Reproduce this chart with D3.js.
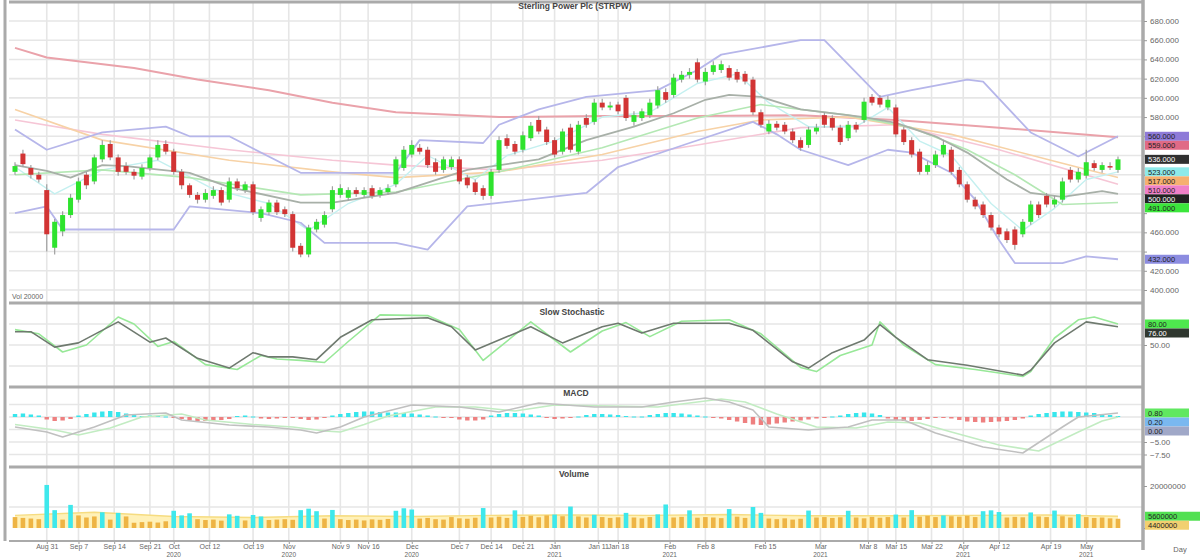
<!DOCTYPE html>
<html>
<head>
<meta charset="utf-8">
<script src="https://cdn.jsdelivr.net/npm/d3@7"></script>
<style>
body{margin:0;background:#fff}
text{font-family:"Liberation Sans",Arial,sans-serif}
</style>
</head>
<body>
<script>
const W=1200
const H=558

// ---- price data (one candle per index) ----
const opens=[523,542,527,520,504,444,461,478,494,520, 513,536,552,538,529,523,518,527,538,552,
 544,523,509,499,494,498,504,494,513,504, 510,475,481,491,484,479,446,437,463,468,
 484,499,496,504,499,506,499,502,510,527, 541,548,546,533,525,528,536,517,512,506,
 498,525,558,552,546,558,577,567,556,544, 569,544,579,575,595,590,593,600,575,579,
 582,592,606,603,619,624,637,617,627,629, 631,627,625,619,585,565,573,572,565,556,
 551,565,582,579,569,558,572,577,601,600, 590,590,567,556,544,523,530,541,546,525,
 510,494,489,478,465,461,463,458,471,489, 498,489,494,525,515,519,532,525,529,525]
const highs=[533,546,530,523,510,474,482,500,517,523, 541,556,556,541,533,526,531,541,556,556,
 547,526,511,502,505,508,507,517,516,513, 513,487,494,494,487,482,449,468,474,482,
 508,510,507,507,507,509,507,510,539,550, 556,552,549,537,539,539,539,520,515,509,
 526,560,562,555,565,575,581,570,559,568, 573,576,583,599,599,596,596,603,586,589,
 599,612,610,625,628,631,641,631,638,639, 634,630,628,622,588,577,576,575,568,559,
 570,573,585,582,572,576,575,600,604,603, 602,593,570,559,547,534,545,556,549,528,
 513,497,492,481,468,464,466,474,493,492, 501,498,517,528,527,546,535,533,533,539]
const lows=[520,528,516,512,440,437,456,475,491,505, 510,533,535,519,520,515,515,524,535,541,
 520,505,496,490,491,495,488,491,503,501, 478,471,478,478,476,440,434,434,460,465,
 481,496,493,497,496,495,496,499,507,524, 538,541,527,520,522,525,510,506,499,494,
 495,522,547,541,543,555,562,551,538,541, 543,541,569,572,587,587,583,576,571,576,
 579,589,595,600,616,620,616,613,624,626, 618,616,614,582,569,562,566,562,553,545,
 548,562,569,566,551,555,564,574,592,590, 587,559,551,538,520,520,527,538,520,507,
 491,484,475,462,455,449,442,455,468,475, 486,486,491,512,512,516,524,522,525,522]
const closes=[529,531,520,515,458,471,478,496,513,509, 538,551,538,523,523,519,527,538,551,544,
 523,509,499,494,501,504,491,513,506,510, 481,484,491,481,479,444,437,465,471,478,
 504,506,504,500,504,498,504,506,536,546, 551,544,530,523,536,536,513,509,502,498,
 523,556,550,544,561,571,565,554,541,565, 546,572,572,595,590,592,586,579,582,586,
 595,608,598,621,624,627,619,627,634,635, 621,619,617,585,572,573,569,565,556,548,
 567,569,572,569,554,572,567,596,595,593, 598,562,554,541,523,530,541,551,523,510,
 494,487,478,465,458,452,447,471,489,478, 489,494,513,515,523,533,527,530,528,536]

// volume in millions
const volumes=[5.2,4.8,4.5,4.2,20.5,8.5,4.0,11.0,6.0,5.0, 5.5,7.5,4.0,7.2,5.5,2.5,2.8,3.0,2.6,3.2,
 8.2,6.0,7.0,4.2,3.8,4.0,3.5,6.5,5.8,3.6, 6.2,5.5,3.8,4.0,4.2,3.9,8.5,9.2,8.0,4.5,
 8.6,4.2,3.8,4.0,3.6,4.1,3.9,4.3,8.2,9.4, 8.8,4.5,4.8,4.2,4.0,5.2,4.6,4.4,4.9,9.5,
 5.0,5.4,4.8,8.4,5.3,5.8,5.1,6.0,6.4,5.6, 10.2,5.5,5.0,6.3,5.2,4.8,5.1,7.2,5.0,4.6,
 5.2,6.5,11.2,5.0,5.3,8.4,4.9,5.2,5.0,4.7, 9.0,5.4,4.8,10.0,7.2,4.5,4.2,4.6,4.0,4.4,
 8.3,5.0,5.2,4.8,5.1,8.2,5.0,4.6,5.3,4.9, 5.2,6.4,5.0,8.5,5.4,5.8,5.2,6.0,5.6,5.4,
 5.8,5.2,8.0,8.4,7.6,5.0,5.3,5.1,7.4,5.5, 5.2,8.3,5.6,5.0,6.6,5.2,4.8,5.0,4.6,4.4]
const volMaIdx=[0,10,20,30,40,50,60,70,80,90,100,110,120,130,139]
const volMa=[6.0,7.5,5.5,5.0,5.8,5.5,6.0,6.2,6.0,6.4,5.8,5.8,6.0,6.2,5.6]

// ---- overlays (read at key candles) ----
const ma200Idx=[0,4,15,23,32,40,48,61,74,86,99,111,124,139]
const ma200=[652,642,631,619,608,595,585,580,581,581,582,577,569,559]
const bbUpIdx=[0,4,11,19,22,27,36,48,51,59,61,66,72,81,86,89,99,102,109,113,120,122,128,134,139]
const bbUpper=[567,546,564,570,560,560,522,522,556,553,572,588,601,608,629,645,660,660,601,608,619,617,564,539,560]
const bbLowIdx=[0,4,6,20,22,31,36,39,48,52,57,72,76,85,93,96,99,105,110,113,118,121,124,126,132,135,139]
const bbLower=[480,487,463,463,487,480,470,449,449,442,487,501,528,553,575,562,546,530,546,543,522,494,452,428,428,435,432]
const bbMidIdx=[0,4,7,11,14,22,27,36,40,48,57,66,72,78,83,87,90,94,99,107,111,116,120,125,128,132,137,139]
const bbMid=[530,524,517,530,529,522,507,491,491,501,525,536,556,570,584,598,603,601,588,580,574,560,543,515,501,497,503,500]
const ma50Idx=[0,11,22,36,48,61,74,86,94,105,113,120,126,132,139]
const ma50=[520,525,517,499,502,523,548,579,593,582,569,546,520,489,491]
const ma100Idx=[0,11,27,40,48,61,74,86,94,105,118,131,139]
const ma100=[588,556,535,523,517,523,541,565,577,580,562,534,517]
const ma150Idx=[0,11,27,40,48,61,74,86,99,111,124,139]
const ma150=[577,562,546,535,530,525,535,551,569,572,546,510]
const emaIdx=[0,5,11,18,25,32,37,42,48,52,58,62,68,74,80,86,91,95,100,106,110,114,118,123,127,131,135,139]
const ema=[528,500,525,535,505,490,462,490,510,540,515,540,555,580,585,615,625,595,570,570,590,555,540,490,462,485,515,523]
const priceTicks=[400,420,440,460,480,500,520,540,560,580,600,620,640,660,680]

// ---- slow stochastic ----
const stochKIdx=[0,2,5,8,13,17,19,23,27,30,32,35,38,41,45,52,55,58,65,69,74,76,79,83,90,93,98,100,103,107,109,111,115,120,127,128,131,135,139]
const stochK=[69,69,47,53,83,54,60,31,17,39,33,33,29,61,86,89,76,43,76,53,76,81,67,81,81,71,26,17,39,57,79,61,29,21,7,14,53,83,76]
const stochDIdx=[0,3,6,9,13,15,18,20,24,28,31,33,36,39,42,46,52,56,59,65,70,74,77,80,84,90,94,99,101,104,108,109,112,116,121,127,128,131,134,136,139]
const stochD=[72,66,40,50,90,80,48,55,22,15,35,30,28,25,55,93,92,72,28,83,40,70,82,62,84,86,66,18,12,35,50,83,50,22,15,5,12,60,86,90,80]

// ---- MACD ----
const macdIdx=[0,4,6,10,14,19,21,27,32,36,38,41,44,50,56,61,66,73,79,83,87,90,93,95,100,105,108,112,116,122,127,132,134,139]
const macdLine=[-2.0,-3.0,-4.0,-2.0,0.4,0.8,-0.6,-1.6,-2.0,-2.6,-3.2,-2.0,0,2.4,2.0,1.0,2.8,2.0,2.0,3.0,3.8,3.0,1.4,-2.0,-2.6,-2.0,-0.6,-0.6,-3.2,-6.0,-7.2,-2.0,0,0.8]
const signalIdx=[0,5,8,12,16,21,24,30,35,39,41,44,47,53,58,63,68,75,81,85,89,92,96,101,106,110,114,118,124,129,134,137,139]
const signalLine=[-1.5,-2.6,-3.6,-2.2,0,0.6,-0.6,-1.5,-2.0,-2.8,-3.0,-1.5,0.2,2.0,2.0,1.2,2.4,2.2,2.0,2.8,3.6,3.0,0.6,-2.0,-2.2,-1.0,-1.2,-3.0,-5.6,-6.8,-3.0,-0.8,0.0]
const macdHist=[0.6,0.7,0.5,0.3, -0.5,-0.8,-0.7,-0.4, 0.3,0.6,0.9,1.1,1.2,1.0,0.7,0.4,
 0.2,0.3,0.2,0.1, -0.1, -0.4,-0.7,-0.8,-0.8,-0.7,-0.6,-0.4, 0.2,0.3,0.1, -0.3,-0.4,-0.3,
 -0.1,-0.2, -0.4,-0.6,-0.5, -0.2, 0.3,0.6,0.8,1.0,1.1,1.1,1.0,0.9,0.9,0.8,0.7,0.5,0.3,
 0.1,-0.1,-0.2, -0.5,-0.7,-0.7,-0.5, 0.3,0.6,0.8,0.8,0.7,0.5,0.3, -0.2,-0.4,-0.3, -0.1,0.1,
 0.4,0.6,0.6,0.5,0.4,0.2, 0.1,0.1, 0.4,0.6,0.8,0.8,0.7,0.5,0.3, 0.1,-0.1,-0.3,
 -0.6,-0.9,-1.2,-1.5,-1.6,-1.5,-1.3,-1.1,-0.9,-0.7,-0.5,-0.3, -0.1,0.1,0.3,
 0.6,0.8,0.9,0.7,0.4, -0.3,-0.6,-0.8,-0.8,-0.6,-0.4, -0.2,-0.1,-0.3,
 -0.6,-0.9,-1.0,-1.1,-1.0,-0.9,-0.8,-0.6,-0.3, 0.3,0.6,0.8,1.0,1.1,1.1,1.0,0.9,0.8,0.6,0.4,0.2]

// ---- time axis ----
const xTickIdx=[4,8,12.5,17,20,24.5,30,34.5,41,44.5,50,56,60,64,68,73.5,76,82.5,87,94.5,101.5,107.5,111,115.5,119.5,124,130.5,135]
const xTickLabels=["Aug 31","Sep 7","Sep 14","Sep 21","Oct","Oct 12","Oct 19","Nov","Nov 9","Nov 16","Dec","Dec 7","Dec 14","Dec 21","Jan","Jan 11","Jan 18","Feb","Feb 8","Feb 15","Mar","Mar 8","Mar 15","Mar 22","Apr","Apr 12","Apr 19","May"]
const xSubIdx=[20,34.5,50,68,82.5,101.5,119.5,135]
const xSubLabels=["2020","2020","2020","2021","2021","2021","2021","2021"]

const title="Sterling Power Plc (STRPW)"

// ---- layout ----
const left=9, right=1142
const pMain={top:3,bottom:302}
const pStoch={top:304,bottom:386}
const pMacd={top:388,bottom:466}
const pVol={top:468,bottom:541}

const x=d3.scaleLinear().domain([0,closes.length-1]).range([15,1118])
const y=d3.scaleLinear().domain([400,680]).range([290,21])
const yS=d3.scaleLinear().domain([0,100]).range([380,310])
const yM=d3.scaleLinear().domain([-9,5]).range([462,392])
const yV=d3.scaleLinear().domain([0,20]).range([528,486])

const svg=d3.create("svg")
    .attr("width",W)
    .attr("height",H)
    .style("display","block")
d3.select("body").append(()=>svg.node())

svg.append("rect").attr("width",W).attr("height",H).attr("fill","#fff")

//vertical grid in every panel
;[pMain,pStoch,pMacd,pVol].forEach(p=>{
  svg.append("g").selectAll("line").data(xTickIdx).enter().append("line")
    .attr("x1",d=>x(d)).attr("x2",d=>x(d))
    .attr("y1",p.top).attr("y2",p.bottom)
    .attr("stroke","#e6e6e6").attr("stroke-width",1.6)
})

//horizontal grids
function hGrid(vals,scale){
  svg.append("g").selectAll("line").data(vals).enter().append("line")
    .attr("x1",left).attr("x2",right)
    .attr("y1",d=>scale(d)).attr("y2",d=>scale(d))
    .attr("stroke","#e6e6e6").attr("stroke-width",1.6)
}
hGrid(priceTicks,y)
hGrid([20,50,80],yS)
hGrid([-7.5,-5,-2.5,0,2.5],yM)
hGrid([10],yV)

const pts=(idx,vals)=>d3.zip(idx,vals)
function drawLine(data,scale,color,width){
  svg.append("path")
    .attr("d",d3.line().x(d=>x(d[0])).y(d=>scale(d[1]))(data))
    .attr("fill","none").attr("stroke",color).attr("stroke-width",width||1.6)
    .attr("stroke-linejoin","round")
}

// main overlays
drawLine(pts(ma200Idx,ma200),y,"#eaa2aa",2)
drawLine(pts(ma150Idx,ma150),y,"#f6c6d6",1.6)
drawLine(pts(ma100Idx,ma100),y,"#f7d2a6",1.6)
drawLine(pts(emaIdx,ema),y,"#c4f0f0",1.4)
drawLine(pts(ma50Idx,ma50),y,"#b4e8b4",1.6)
drawLine(pts(bbUpIdx,bbUpper),y,"#b6b6ea",1.8)
drawLine(pts(bbLowIdx,bbLower),y,"#b6b6ea",1.8)
drawLine(pts(bbMidIdx,bbMid),y,"#a8b0a8",1.8)

// candles
const candles=d3.range(closes.length).map(i=>({i,o:opens[i],h:highs[i],l:lows[i],c:closes[i]}))
const cg=svg.append("g")
cg.selectAll("line").data(candles).enter().append("line")
  .attr("x1",d=>x(d.i)).attr("x2",d=>x(d.i))
  .attr("y1",d=>y(d.h)).attr("y2",d=>y(d.l))
  .attr("stroke","#a0a0a0").attr("stroke-width",1.2)
cg.selectAll("rect").data(candles).enter().append("rect")
  .attr("x",d=>x(d.i)-2.5).attr("width",5)
  .attr("y",d=>y(Math.max(d.o,d.c)))
  .attr("height",d=>Math.max(1.5,Math.abs(y(d.o)-y(d.c))))
  .attr("fill",d=>d.c>=d.o?"#2ee32e":"#d23434")

// stochastic
drawLine(pts(stochDIdx,stochD),yS,"#98e898",1.6)
drawLine(pts(stochKIdx,stochK),yS,"#6f7a6f",1.6)

// MACD
const yz=yM(0)
svg.append("g").selectAll("rect").data(macdHist).enter().append("rect")
  .attr("x",(d,i)=>x(i)-2.2).attr("width",4.4)
  .attr("y",d=>d>=0?yM(d):yz)
  .attr("height",d=>Math.max(1,Math.abs(yM(d)-yz)))
  .attr("fill",d=>d>=0?"#38e6ec":"#ee8080")
drawLine(pts(signalIdx,signalLine),yM,"#c2ecc2",1.6)
drawLine(pts(macdIdx,macdLine),yM,"#c0c0c0",1.6)

// volume
const maAt=d3.scaleLinear().domain(volMaIdx).range(volMa)
svg.append("path")
  .attr("d",d3.area().x(d=>x(d[0])).y0(yV(0)).y1(d=>yV(d[1]))(pts(volMaIdx,volMa)))
  .attr("fill","#fff1b8")
drawLine(pts(volMaIdx,volMa),yV,"#f6dc80",1.4)
svg.append("g").selectAll("rect").data(volumes).enter().append("rect")
  .attr("x",(d,i)=>x(i)-2.3).attr("width",4.6)
  .attr("y",d=>yV(d)).attr("height",d=>yV(0)-yV(d))
  .attr("fill",(d,i)=>d>maAt(i)?"#3ee8ec":"#eeb444")

// panel borders
const borderC="#aaaaaa"
;[pMain,pStoch,pMacd,pVol].forEach(p=>{
  svg.append("line").attr("x1",left).attr("x2",right).attr("y1",p.top-1).attr("y2",p.top-1)
    .attr("stroke",borderC).attr("stroke-width",3)
})
svg.append("line").attr("x1",left).attr("x2",right).attr("y1",pVol.bottom).attr("y2",pVol.bottom)
  .attr("stroke",borderC).attr("stroke-width",2)
svg.append("line").attr("x1",5).attr("x2",5).attr("y1",0).attr("y2",pVol.bottom)
  .attr("stroke",borderC).attr("stroke-width",3)
svg.append("line").attr("x1",right+1).attr("x2",right+1).attr("y1",0).attr("y2",550)
  .attr("stroke",borderC).attr("stroke-width",3.5)

// right axes
const axes=[]
function styleAxis(g){
  g.select(".domain").remove()
  g.selectAll("line").attr("stroke","#999")
  g.selectAll("text").attr("fill","#666").attr("font-size",8)
  axes.push(g)
}
svg.append("g").attr("transform",`translate(${right+2},0)`)
  .call(d3.axisRight(y).tickValues(priceTicks).tickFormat(d3.format(".3f")).tickSize(3).tickPadding(3))
  .call(styleAxis)
svg.append("g").attr("transform",`translate(${right+2},0)`)
  .call(d3.axisRight(yS).tickValues([50]).tickFormat(d3.format(".2f")).tickSize(3).tickPadding(3))
  .call(styleAxis)
svg.append("g").attr("transform",`translate(${right+2},0)`)
  .call(d3.axisRight(yM).tickValues([-5,-7.5]).tickFormat(d3.format(".2f")).tickSize(3).tickPadding(3))
  .call(styleAxis)
svg.append("g").attr("transform",`translate(${right+2},0)`)
  .call(d3.axisRight(yV).tickValues([0,20]).tickFormat(d=>d3.format("d")(d*1e6)).tickSize(3).tickPadding(3))
  .call(styleAxis)

// value tags on the right
const tagSpans=[]
function drawTags(tags){
  tags.sort((a,b)=>a.y-b.y)
  for(let i=1;i<tags.length;i++){
    if(tags[i].y<tags[i-1].y+9) tags[i].y=tags[i-1].y+9
  }
  const g=svg.append("g")
  tags.forEach(t=>{
    tagSpans.push([t.y-5,t.y+5])
    g.append("rect").attr("x",right+3).attr("y",t.y-4.5)
      .attr("width",t.w||44).attr("height",9).attr("fill",t.fill)
    g.append("text").attr("x",right+6).attr("y",t.y+3)
      .attr("font-size",7.5).attr("fill",t.color||"#222").text(t.text)
  })
}
const f3=d3.format(".3f"), f2=d3.format(".2f")
const last=a=>a[a.length-1]
drawTags([
  {y:y(last(ma200)),fill:"#e06a86",text:f3(last(ma200))},
  {y:y(last(bbUpper)),fill:"#8e7ad8",text:f3(last(bbUpper))},
  {y:y(last(closes)),fill:"#303030",text:f3(last(closes)),color:"#fff"},
  {y:y(last(ema)),fill:"#8eeaea",text:f3(last(ema))},
  {y:y(last(ma100)),fill:"#f6b070",text:f3(last(ma100))},
  {y:y(last(ma150)),fill:"#f080c8",text:f3(last(ma150))},
  {y:y(last(bbMid)),fill:"#222",text:f3(last(bbMid)),color:"#fff"},
  {y:y(last(ma50)),fill:"#3be63b",text:f3(last(ma50))}
])
drawTags([{y:y(last(bbLower)),fill:"#8c8ce0",text:f3(last(bbLower))}])
drawTags([
  {y:yS(last(stochK)),fill:"#303830",text:f2(last(stochK)),color:"#fff"},
  {y:yS(last(stochD)),fill:"#4ee84e",text:f2(last(stochD))}
])
drawTags([
  {y:yM(last(macdLine)),fill:"#60e860",text:f2(last(macdLine))},
  {y:yM(last(signalLine)),fill:"#a0a8c8",text:f2(last(signalLine))},
  {y:yM(last(macdHist)),fill:"#7ab8f0",text:f2(last(macdHist))}
])
drawTags([
  {y:yV(last(volMa)),fill:"#52e052",text:d3.format("d")(last(volMa)*1e6),w:56},
  {y:yV(last(volumes)),fill:"#f2d070",text:d3.format("d")(last(volumes)*1e6)}
])
// axis labels sitting under a tag are covered, as on the original
axes.forEach(g=>{
  g.selectAll(".tick").each(function(){
    const ty=+d3.select(this).attr("transform").match(/,([-\d.]+)/)[1]
    if(tagSpans.some(s=>ty>s[0]-5&&ty<s[1]+5)) d3.select(this).select("text").remove()
  })
})

// time axis, two rows
const xa=svg.append("g").attr("transform",`translate(0,${pVol.bottom+1})`)
  .call(d3.axisBottom(x).tickValues(xTickIdx).tickFormat((d,i)=>xTickLabels[i]).tickSize(2).tickPadding(0))
xa.select(".domain").remove()
xa.selectAll("line").attr("stroke","#999")
xa.selectAll("text").attr("fill","#666").attr("font-size",7)
svg.append("g").selectAll("text").data(xSubIdx).enter().append("text")
  .attr("x",d=>x(d)).attr("y",557).attr("text-anchor","middle")
  .attr("font-size",6.5).attr("fill","#666")
  .text((d,i)=>xSubLabels[i])
svg.append("text").attr("x",1180).attr("y",552).attr("text-anchor","middle")
  .attr("font-size",7.5).attr("fill","#666").text("Day")

// titles
const titleStyle=t=>t.attr("text-anchor","middle").attr("font-size",8.5).attr("fill","#444").attr("font-weight","bold")
svg.append("text").attr("x",575).attr("y",9).text(title).call(titleStyle)
svg.append("text").attr("x",572).attr("y",315).text("Slow Stochastic").call(titleStyle)
svg.append("text").attr("x",576).attr("y",396).text("MACD").call(titleStyle)
svg.append("text").attr("x",574).attr("y",477).text("Volume").call(titleStyle)
svg.append("text").attr("x",12).attr("y",299).attr("font-size",7).attr("fill","#666").text("Vol 20000")
</script>
</body>
</html>
